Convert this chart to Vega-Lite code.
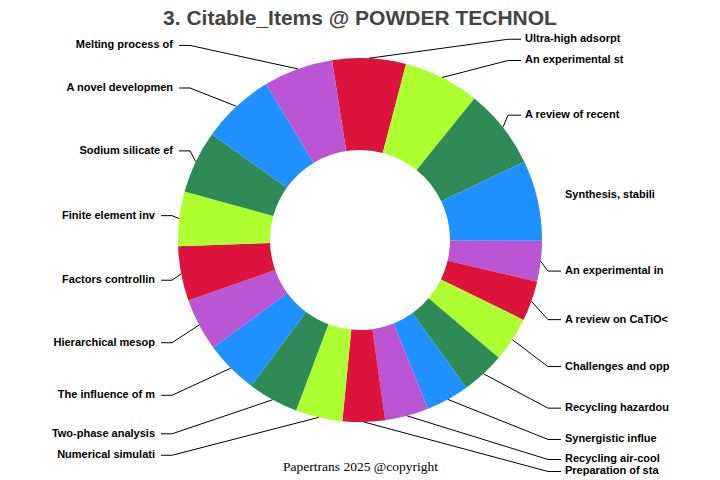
{
  "$schema": "https://vega.github.io/schema/vega-lite/v6.json",
  "width": 720,
  "height": 480,
  "autosize": {"type": "none"},
  "padding": 0,
  "background": "white",
  "title": {
    "text": "3. Citable_Items @ POWDER TECHNOL",
    "font": "Liberation Sans",
    "fontSize": 21,
    "fontWeight": "bold",
    "color": "#444444",
    "anchor": "middle",
    "dy": 33
  },
  "data": {
    "values": [
      {"idx": 1, "label": "Ultra-high adsorpt", "value": 23.5},
      {"idx": 2, "label": "An experimental st", "value": 24.3},
      {"idx": 3, "label": "A review of recent", "value": 25.6},
      {"idx": 4, "label": "Synthesis, stabili", "value": 25.7},
      {"idx": 5, "label": "An experimental in", "value": 13.0},
      {"idx": 6, "label": "A review on CaTiO<", "value": 12.8},
      {"idx": 7, "label": "Challenges and opp", "value": 14.3},
      {"idx": 8, "label": "Recycling hazardou", "value": 13.9},
      {"idx": 9, "label": "Synergistic influe", "value": 13.8},
      {"idx": 10, "label": "Recycling air-cool", "value": 14.0},
      {"idx": 11, "label": "Preparation of sta", "value": 13.5},
      {"idx": 12, "label": "Numerical simulati", "value": 15.0},
      {"idx": 13, "label": "Two-phase analysis", "value": 16.2},
      {"idx": 14, "label": "The influence of m", "value": 17.0},
      {"idx": 15, "label": "Hierarchical mesop", "value": 16.8},
      {"idx": 16, "label": "Factors controllin", "value": 17.5},
      {"idx": 17, "label": "Finite element inv", "value": 17.4},
      {"idx": 18, "label": "Sodium silicate ef", "value": 20.1},
      {"idx": 19, "label": "A novel developmen", "value": 23.4},
      {"idx": 20, "label": "Melting process of", "value": 22.2}
    ]
  },
  "transform": [
    {"joinaggregate": [{"op": "sum", "field": "value", "as": "total"}]},
    {"window": [{"op": "sum", "field": "value", "as": "cum"}], "sort": [{"field": "idx", "order": "ascending"}], "frame": [null, 0]},
    {"calculate": "-0.15446 + 2*PI*(datum.cum - datum.value/2)/datum.total", "as": "ang"},
    {"calculate": "sin(datum.ang)", "as": "s"},
    {"calculate": "cos(datum.ang)", "as": "c"},
    {"calculate": "datum.s >= 0 ? 'R' : 'L'", "as": "side"},
    {"calculate": "182*datum.s", "as": "ex"},
    {"calculate": "182*datum.c", "as": "ey"},
    {"calculate": "datum.side == 'R' ? (datum.c >= 0 ? 200*datum.c + 1 : 222*datum.c - 5) : (datum.c >= 0 ? 207*datum.c : 222*datum.c + 1)", "as": "ly0"},
    {"window": [{"op": "lag", "field": "ly0", "as": "prevly"}, {"op": "lag", "field": "side", "as": "prevside"}], "sort": [{"field": "idx", "order": "ascending"}]},
    {"calculate": "(datum.side == 'R' && datum.prevside == 'R' && datum.c < 0) ? min(datum.ly0, datum.prevly - 12) : datum.ly0", "as": "ly"},
    {"calculate": "datum.side == 'R' ? (datum.c > 0.3 ? 165 : 205) : (datum.c > 0.3 ? -187 : -205)", "as": "lx"},
    {"calculate": "datum.side == 'R' ? datum.lx - 17 : datum.lx + 17", "as": "bx"},
    {"calculate": "datum.side == 'R' ? datum.lx - 4 : datum.lx + 6", "as": "tx"},
    {"calculate": "datum.idx % 5", "as": "grp"}
  ],
  "layer": [
    {
      "mark": {"type": "arc", "outerRadius": 182, "innerRadius": 90},
      "encoding": {
        "theta": {"field": "value", "type": "quantitative", "stack": true, "scale": {"range": [-0.15446, 6.12872]}},
        "order": {"field": "idx", "type": "quantitative"},
        "color": {
          "field": "grp",
          "type": "nominal",
          "scale": {"domain": [1, 2, 3, 4, 0], "range": ["#DC143C", "#ADFF2F", "#2E8B57", "#1E90FF", "#BA55D3"]},
          "legend": null
        }
      }
    },
    {
      "transform": [{"filter": "datum.label != 'Synthesis, stabili'"}],
      "mark": {"type": "rule", "color": "black", "strokeWidth": 1},
      "encoding": {
        "x": {"field": "ex", "type": "quantitative", "scale": {"domain": [-360, 360], "nice": false, "zero": false}, "axis": {"title": "Papertrans 2025 @copyright"}},
        "y": {"field": "ey", "type": "quantitative", "scale": {"domain": [-240, 240], "nice": false, "zero": false}, "axis": null},
        "x2": {"field": "bx"},
        "y2": {"field": "ly"}
      }
    },
    {
      "transform": [{"filter": "datum.label != 'Synthesis, stabili'"}],
      "mark": {"type": "rule", "color": "black", "strokeWidth": 1},
      "encoding": {
        "x": {"field": "bx", "type": "quantitative", "scale": {"domain": [-360, 360], "nice": false, "zero": false}, "axis": {"title": "Papertrans 2025 @copyright"}},
        "y": {"field": "ly", "type": "quantitative", "scale": {"domain": [-240, 240], "nice": false, "zero": false}, "axis": null},
        "x2": {"field": "tx"}
      }
    },
    {
      "transform": [{"filter": "datum.side == 'R'"}],
      "mark": {"type": "text", "align": "left", "baseline": "middle", "font": "Liberation Sans", "fontWeight": "bold", "fontSize": 11, "color": "black"},
      "encoding": {
        "x": {"field": "lx", "type": "quantitative", "scale": {"domain": [-360, 360], "nice": false, "zero": false}, "axis": {"title": "Papertrans 2025 @copyright"}},
        "y": {"field": "ly", "type": "quantitative", "scale": {"domain": [-240, 240], "nice": false, "zero": false}, "axis": null},
        "text": {"field": "label"}
      }
    },
    {
      "transform": [{"filter": "datum.side == 'L'"}],
      "mark": {"type": "text", "align": "right", "baseline": "middle", "font": "Liberation Sans", "fontWeight": "bold", "fontSize": 11, "color": "black"},
      "encoding": {
        "x": {"field": "lx", "type": "quantitative", "scale": {"domain": [-360, 360], "nice": false, "zero": false}, "axis": {"title": "Papertrans 2025 @copyright"}},
        "y": {"field": "ly", "type": "quantitative", "scale": {"domain": [-240, 240], "nice": false, "zero": false}, "axis": null},
        "text": {"field": "label"}
      }
    }
  ],
  "config": {
    "view": {"stroke": null},
    "axisX": {
      "domain": false,
      "ticks": false,
      "labels": false,
      "grid": false,
      "titleFont": "Liberation Serif",
      "titleFontSize": 13.5,
      "titleFontWeight": "normal",
      "titleColor": "black",
      "titleY": -10,
      "titleBaseline": "alphabetic"
    }
  }
}
